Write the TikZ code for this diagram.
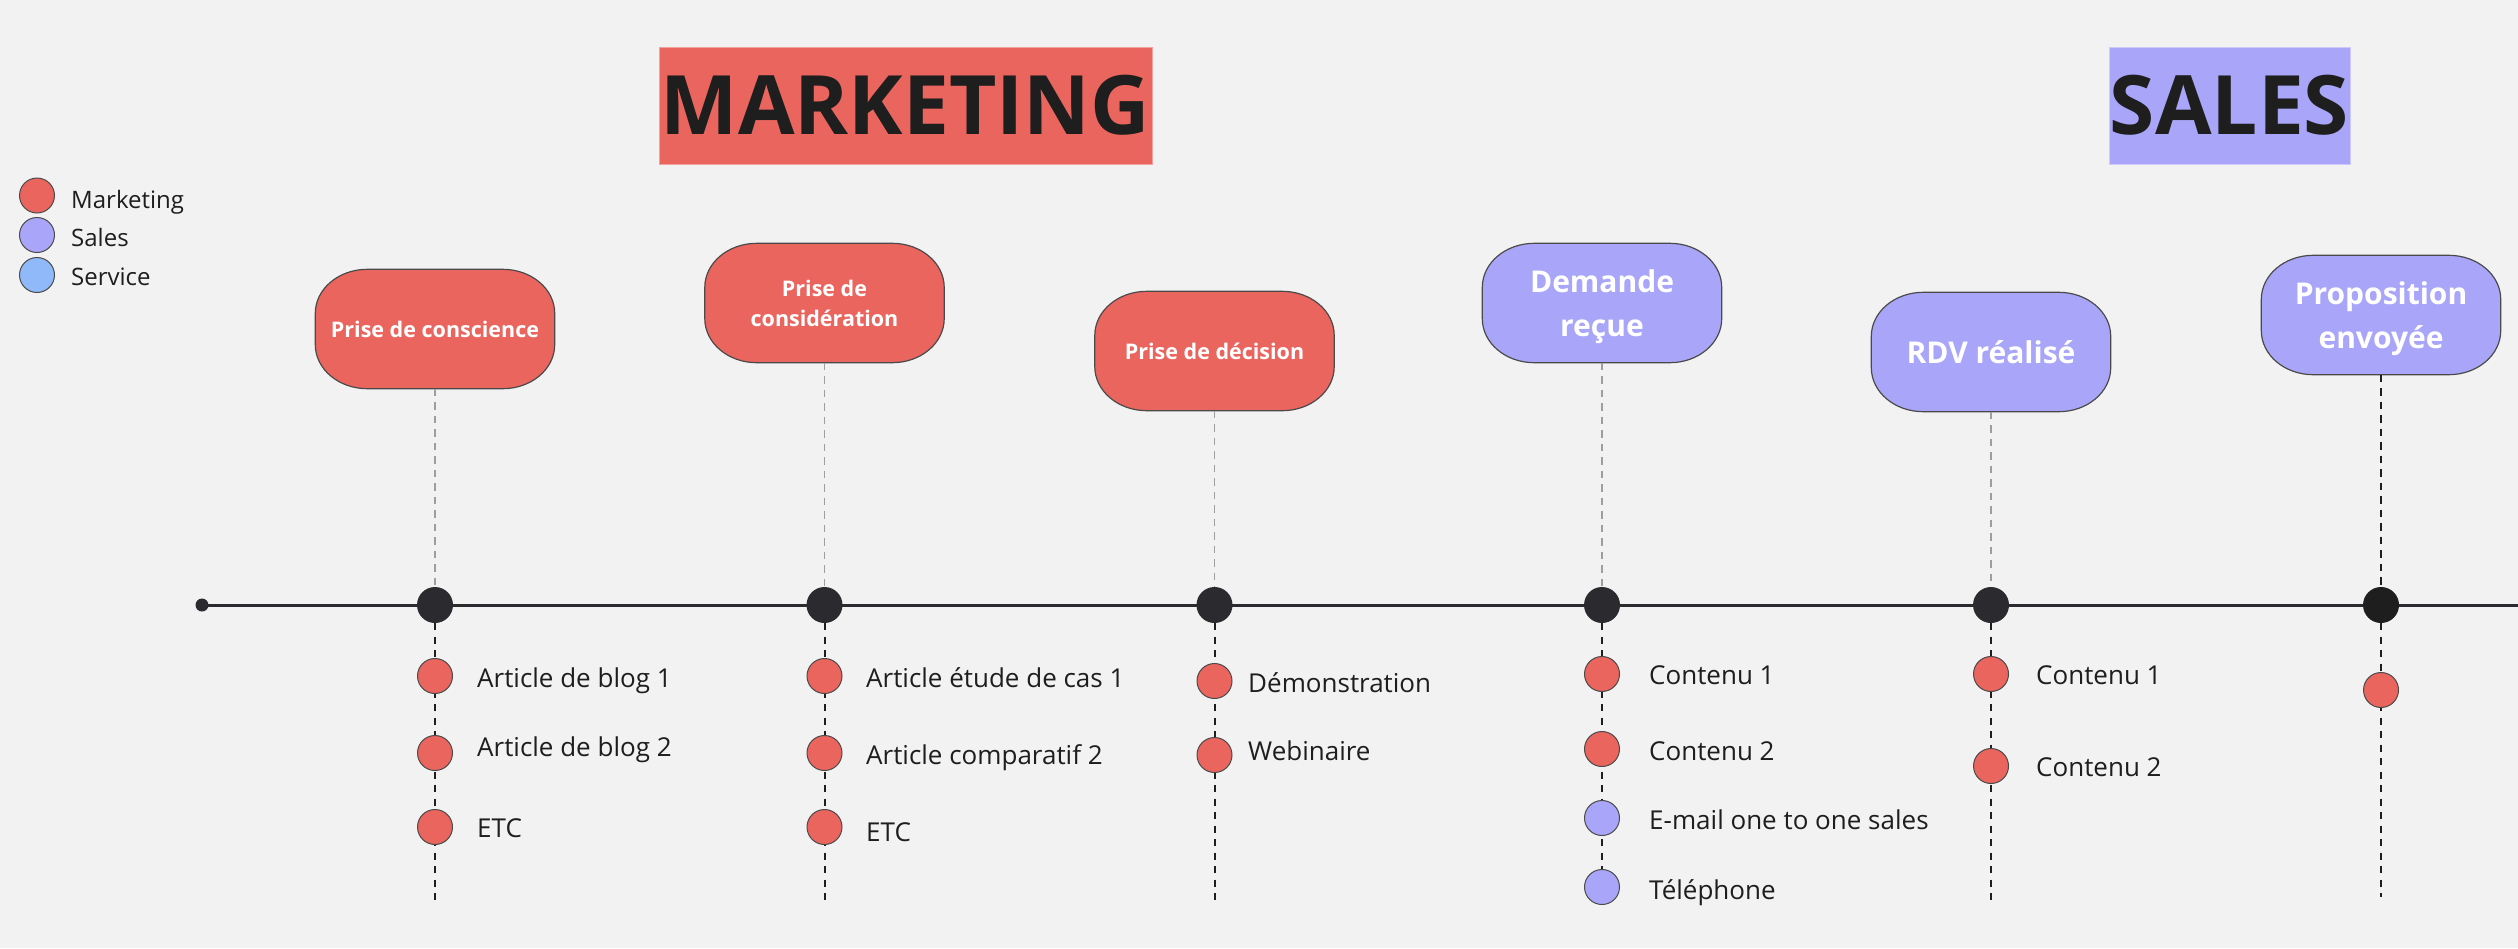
\documentclass[tikz,border=0pt]{standalone}
\usepackage{fontspec}
\setmainfont{Open Sans}
\usetikzlibrary{backgrounds}
\definecolor{bg}{HTML}{F2F2F2}
\definecolor{mred}{HTML}{EB655F}
\definecolor{spurple}{HTML}{A9A6F9}
\definecolor{sblue}{HTML}{8FB9F8}
\definecolor{ink}{HTML}{1E1E1E}
\definecolor{dotc}{HTML}{2B2B2F}
\definecolor{edgec}{HTML}{4A4A4A}
\definecolor{dgray}{HTML}{9E9E9E}
\newcommand\stageshape[2]{%
  \path[draw=edgec, line width=1.2pt, fill=#2]
    ([xshift=52pt]#1.north west) -- ([xshift=-52pt]#1.north east)
    arc[start angle=90, end angle=0, x radius=52pt, y radius=44pt]
    -- ([yshift=44pt]#1.south east)
    arc[start angle=0, end angle=-90, x radius=52pt, y radius=44pt]
    -- ([xshift=52pt]#1.south west)
    arc[start angle=270, end angle=180, x radius=52pt, y radius=44pt]
    -- ([yshift=-44pt]#1.north west)
    arc[start angle=180, end angle=90, x radius=52pt, y radius=44pt] -- cycle;}
\tikzset{
  stage/.style={rectangle, minimum width=239pt, minimum height=119pt, inner sep=0pt,
    text=white, align=center},
  smallst/.style={stage, font=\bfseries\fontsize{21.5pt}{30pt}\selectfont},
  bigst/.style={stage, font=\bfseries\fontsize{30pt}{44pt}\selectfont},
  title/.style={inner sep=0pt, minimum height=117pt, text=ink,
    font=\bfseries\fontsize{82pt}{82pt}\selectfont},
  tdot/.style={circle, fill=dotc, minimum size=36pt, inner sep=0pt},
  sdot/.style={circle, fill=dotc, minimum size=13pt, inner sep=0pt},
  item/.style={circle, draw=edgec, line width=1pt, minimum size=35pt, inner sep=0pt},
  lbl/.style={anchor=base west, inner sep=0pt, text=ink,
    font=\fontsize{26pt}{30pt}\selectfont},
  leg/.style={anchor=base west, inner sep=0pt, text=ink,
    font=\fontsize{24pt}{28pt}\selectfont},
  updash/.style={draw=dgray, line width=1.5pt, dash pattern=on 7.5pt off 6pt},
  updashdark/.style={draw=ink, line width=1.5pt, dash pattern=on 7.5pt off 6pt},
  lowdash/.style={draw=ink, line width=2pt, dash pattern=on 7pt off 6.5pt},
  tl/.style={draw=dotc, line width=3pt},
}
\newcommand\bstrut{\rule{0pt}{31pt}}
\begin{document}
\begin{tikzpicture}[x=1pt, y=-1pt]
\useasboundingbox (0,0) rectangle (2518,948);

% titles
\node[title, fill=mred, draw=mred!60!white, line width=1pt, minimum width=493pt] (tm) at (905.5,105.5) {MARKETING};
\node[title, fill=spurple, draw=spurple!60!white, line width=1pt, minimum width=241pt] (ts) at (2229.5,105.5) {SALES};

% legend
\node[item, fill=mred] (g1) at (37,195.5) {};
\node[item, fill=spurple] (g2) at (37,235) {};
\node[item, fill=sblue] (g3) at (37,275) {};
\node[leg] (gl1) at (71,208.5) {Marketing};
\node[leg] (gl2) at (71,246.5) {Sales};
\node[leg] (gl3) at (71,285) {Service};

% stages
\node[smallst] (s1) at (435,329) {Prise de conscience};
\node[smallst] (s2) at (824.5,303) {Prise de\\considération};
\node[smallst] (s3) at (1214.5,351) {Prise de décision};
\node[bigst] (s4) at (1602,303) {\bstrut Demande\\reçue};
\node[bigst] (s5) at (1991,352) {RDV réalisé};
\node[bigst] (s6) at (2381,315) {\bstrut Proposition\\envoyée};

% timeline dots
\node[sdot] (d0) at (202,605) {};
\node[tdot] (d1) at (435,605) {};
\node[tdot] (d2) at (824.5,605) {};
\node[tdot] (d3) at (1214.5,605) {};
\node[tdot] (d4) at (1602,605) {};
\node[tdot] (d5) at (1991,605) {};
\node[tdot, fill=ink] (d6) at (2381,605) {};
\coordinate (tend) at (2518,605);

% items column 1
\node[item, fill=mred] (i11) at (435,676) {};
\node[item, fill=mred] (i12) at (435,753) {};
\node[item, fill=mred] (i13) at (435,827) {};
\node[lbl] (l11) at (477,687) {Article de blog 1};
\node[lbl] (l12) at (477,756) {Article de blog 2};
\node[lbl] (l13) at (477,837) {ETC};
% column 2
\node[item, fill=mred] (i21) at (824.5,676) {};
\node[item, fill=mred] (i22) at (824.5,753) {};
\node[item, fill=mred] (i23) at (824.5,827) {};
\node[lbl] (l21) at (866,687) {Article étude de cas 1};
\node[lbl] (l22) at (866,764) {Article comparatif 2};
\node[lbl] (l23) at (866,841) {ETC};
% column 3
\node[item, fill=mred] (i31) at (1214.5,681) {};
\node[item, fill=mred] (i32) at (1214.5,755) {};
\node[lbl] (l31) at (1248,692) {Démonstration};
\node[lbl] (l32) at (1248,760) {Webinaire};
% column 4
\node[item, fill=mred] (i41) at (1602,674) {};
\node[item, fill=mred] (i42) at (1602,749) {};
\node[item, fill=spurple] (i43) at (1602,818) {};
\node[item, fill=spurple] (i44) at (1602,887) {};
\node[lbl] (l41) at (1649,684) {Contenu 1};
\node[lbl] (l42) at (1649,760) {Contenu 2};
\node[lbl] (l43) at (1649,829) {E-mail one to one sales};
\node[lbl] (l44) at (1649,899) {Téléphone};
% column 5
\node[item, fill=mred] (i51) at (1991,674) {};
\node[item, fill=mred] (i52) at (1991,766) {};
\node[lbl] (l51) at (2036,684) {Contenu 1};
\node[lbl] (l52) at (2036,776) {Contenu 2};
% column 6
\node[item, fill=mred] (i61) at (2381,690) {};

\coordinate (e1) at (435,901);
\coordinate (e2) at (824.5,901);
\coordinate (e3) at (1214.5,901);
\coordinate (e4) at (1602,901);
\coordinate (e5) at (1991,901);
\coordinate (e6) at (2381,897);

\begin{scope}[on background layer]
  \fill[bg] (0,0) rectangle (2518,948);
  \stageshape{s1}{mred}
  \stageshape{s2}{mred}
  \stageshape{s3}{mred}
  \stageshape{s4}{spurple}
  \stageshape{s5}{spurple}
  \stageshape{s6}{spurple}
  \draw[tl] (d0.center) -- (tend);
  \draw[updash] (s1.south) -- (d1.north);
  \draw[updash] (s2.south) -- (d2.north);
  \draw[updash] (s3.south) -- (d3.north);
  \draw[updash] (s4.south) -- (d4.north);
  \draw[updash] (s5.south) -- (d5.north);
  \draw[updashdark] (s6.south) -- (d6.north);
  \draw[lowdash] (d1.south) -- (e1);
  \draw[lowdash] (d2.south) -- (e2);
  \draw[lowdash] (d3.south) -- (e3);
  \draw[lowdash] (d4.south) -- (e4);
  \draw[lowdash] (d5.south) -- (e5);
  \draw[lowdash] (d6.south) -- (e6);
\end{scope}
\end{tikzpicture}
\end{document}
